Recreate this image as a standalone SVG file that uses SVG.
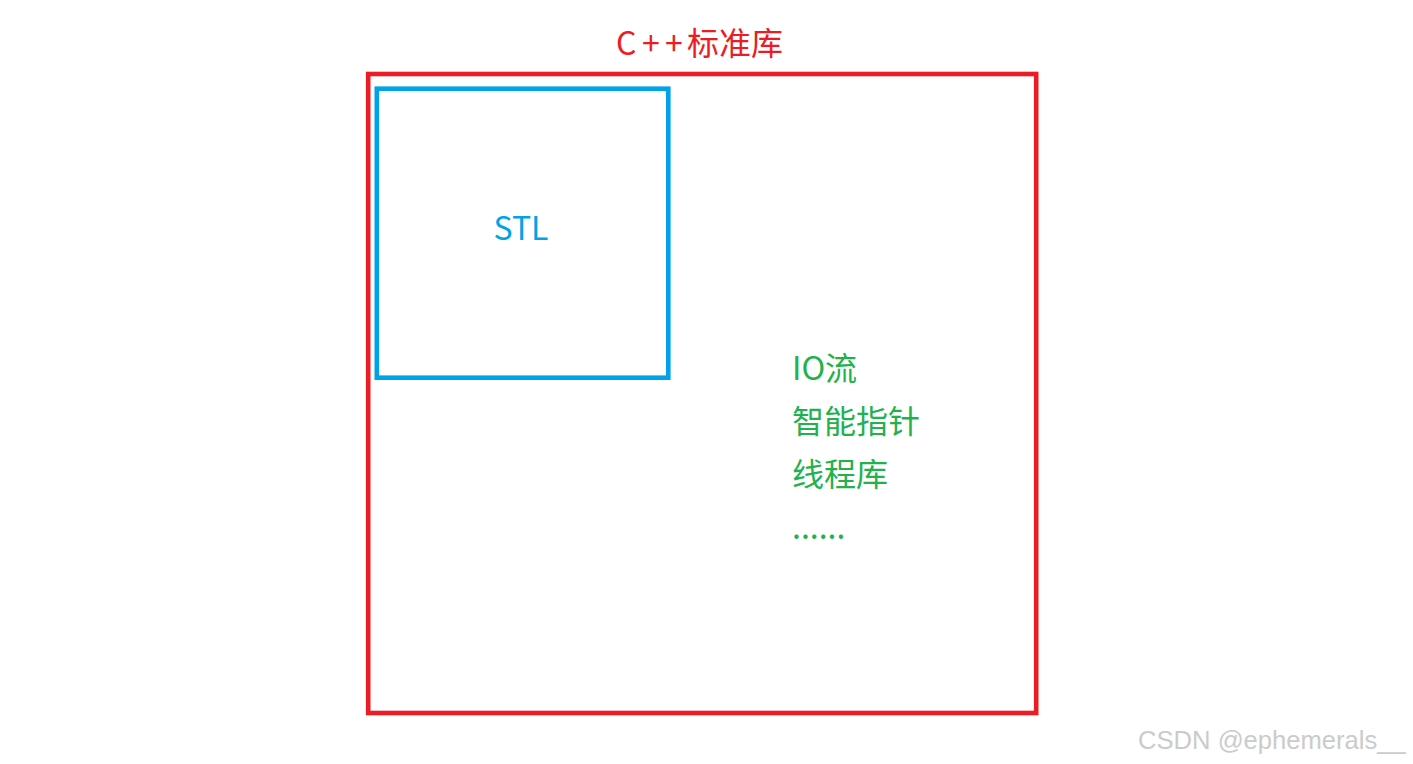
<svg xmlns="http://www.w3.org/2000/svg" width="1413" height="764" viewBox="0 0 1413 764">
<style>
.t{font-family:"Noto Sans CJK SC","Noto Sans",sans-serif;font-size:32px}
.g{fill:#22B14C}
</style>
<rect width="1413" height="764" fill="#ffffff"/>
<g id="stdlib">
<rect x="368.2" y="74" width="668" height="639" fill="none" stroke="#ED1C24" stroke-width="4.6"/>
<text class="t" y="54.5" fill="#ED1C24"><tspan x="616">C</tspan><tspan x="642">+</tspan><tspan x="665">+</tspan><tspan x="687">标准库</tspan></text>
</g>
<g id="stl">
<rect x="376.8" y="88.7" width="291.5" height="289" fill="none" stroke="#00A2E8" stroke-width="4.6"/>
<text class="t" x="521" y="240" fill="#00A2E8" text-anchor="middle">STL</text>
</g>
<g id="others">
<text class="t g" x="792" y="380">IO流</text>
<text class="t g" x="792" y="433">智能指针</text>
<text class="t g" x="792" y="486">线程库</text>
<text class="t g" x="792" y="539" font-size="30">......</text>
</g>
<g id="connectors"></g>
<text x="1138" y="749" font-family="Liberation Sans,Arial,sans-serif" font-size="25.6" fill="#cbcbcb">CSDN @ephemerals__</text>
</svg>
